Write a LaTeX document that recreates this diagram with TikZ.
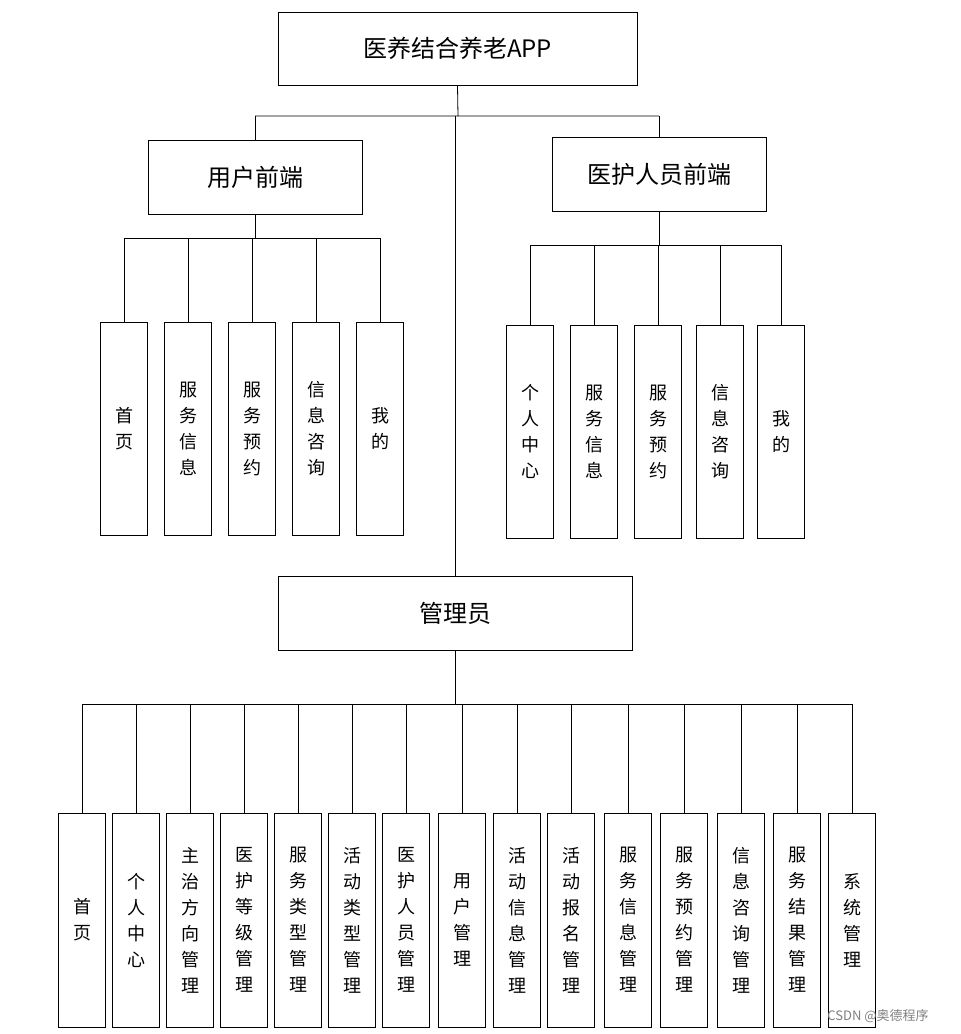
\documentclass[tikz,border=0pt]{standalone}
\usepackage{fontspec}
\setmainfont{Noto Sans CJK SC}
\begin{document}
\begin{tikzpicture}[x=1pt,y=-1pt,
  big/.style={draw,line width=0.8pt,minimum height=73pt,font=\fontsize{24}{28}\selectfont,inner sep=0pt},
  leaf/.style={draw,line width=0.8pt,minimum width=47pt,minimum height=213pt,font=\fontsize{18}{26}\selectfont,align=center,inner sep=0pt},
  ln/.style={line width=0.8pt}]
\useasboundingbox (0,0) rectangle (961,1034);
\node[big,minimum width=359pt] (app) at (457.5,48.5) {医养结合养老APP};
\node[big,minimum width=214pt,minimum height=74pt] (user) at (255,177) {用户前端};
\node[big,minimum width=214pt,minimum height=74pt] (med) at (659,174) {医护人员前端};
\node[big,minimum width=354pt,minimum height=74pt] (adm) at (455,613) {管理员};
\coordinate (j1) at (456,116);
\draw[ln] (app.south) -- (458,116) (255,116) -- (659,116);
\draw[ln] (255,116) -- (user.north);
\draw[ln] (659,116) -- (med.north);
\draw[ln] (455,116) -- (adm.north);
% user leaves
\draw[ln] (user.south) -- (255,238) (124,238) -- (380,238);
\foreach \x/\t [count=\i] in {124/首\\页,188/服\\务\\信\\息,252/服\\务\\预\\约,316/信\\息\\咨\\询,380/我\\的}{
  \node[leaf] (u\i) at (\x,428.5) {\t};
  \draw[ln] (\x,238) -- (u\i.north);}
% med leaves
\draw[ln] (med.south) -- (659,245) (530,245) -- (781,245);
\foreach \x/\t [count=\i] in {530/个\\人\\中\\心,594/服\\务\\信\\息,658/服\\务\\预\\约,720/信\\息\\咨\\询,781/我\\的}{
  \node[leaf] (m\i) at (\x,431.5) {\t};
  \draw[ln] (\x,245) -- (m\i.north);}
% admin leaves
\draw[ln] (adm.south) -- (455,704) (82,704) -- (852,704);
\foreach \x/\t [count=\i] in {82/首\\页,136/个\\人\\中\\心,190/主\\治\\方\\向\\管\\理,244/医\\护\\等\\级\\管\\理,298/服\\务\\类\\型\\管\\理,352/活\\动\\类\\型\\管\\理,406/医\\护\\人\\员\\管\\理,462/用\\户\\管\\理,517/活\\动\\信\\息\\管\\理,571/活\\动\\报\\名\\管\\理,628/服\\务\\信\\息\\管\\理,684/服\\务\\预\\约\\管\\理,741/信\\息\\咨\\询\\管\\理,797/服\\务\\结\\果\\管\\理,852/系\\统\\管\\理}{
  \node[leaf,minimum height=214pt] (a\i) at (\x,920) {\t};
  \draw[ln] (\x,704) -- (a\i.north);}
\node[text=gray,font=\fontsize{13}{15}\selectfont] (wm) at (878,1016) {CSDN @奥德程序};
\end{tikzpicture}
\end{document}
